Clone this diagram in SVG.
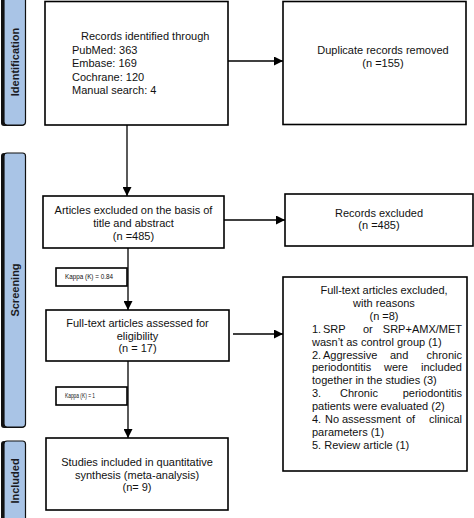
<svg xmlns="http://www.w3.org/2000/svg" width="474" height="518" viewBox="0 0 474 518">
<defs>
<marker id="ah" markerWidth="9" markerHeight="9" refX="9" refY="4.5" orient="auto" markerUnits="userSpaceOnUse">
<path d="M0,0 L9,4.5 L0,9 Z" fill="#000"/>
</marker>
<style>
.box{fill:#fff;stroke:#000;stroke-width:1.6}
.kbox{fill:#fff;stroke:#000;stroke-width:1.6}
.t{font-family:"Liberation Sans",Arial,sans-serif;font-size:11px;fill:#111}
.c{text-anchor:middle}
.e{text-anchor:end}
.k{font-family:"Liberation Sans",Arial,sans-serif;font-size:6.5px;fill:#111}
.shadow{fill:#111}
.bar{fill:#a9c4e6;stroke:#111;stroke-width:1.2}
.lab{font-family:"Liberation Sans",Arial,sans-serif;font-size:11px;font-weight:bold;fill:#1a1a22;text-anchor:middle}
.ln{fill:none;stroke:#000;stroke-width:1.3}
</style>
</defs>
<rect width="474" height="518" fill="#fff"/>

<g id="phase-identification">
<rect class="shadow" x="1" y="-6" width="24" height="132" rx="3"/>
<rect class="bar" x="4" y="-6" width="21.5" height="131" rx="3"/>
<text class="lab" transform="translate(18.5,62) rotate(-90)">Identification</text>
</g>
<g id="phase-screening">
<rect class="shadow" x="1" y="153" width="24" height="275" rx="3"/>
<rect class="bar" x="4" y="153" width="21.5" height="274" rx="3"/>
<text class="lab" transform="translate(18.5,290) rotate(-90)">Screening</text>
</g>
<g id="phase-included">
<rect class="shadow" x="1" y="441" width="24" height="85" rx="3"/>
<rect class="bar" x="4" y="441" width="21.5" height="84" rx="3"/>
<text class="lab" transform="translate(18.5,481) rotate(-90)">Included</text>
</g>

<g id="connectors">
<line class="ln" x1="127" y1="125" x2="127" y2="196" marker-end="url(#ah)"/>
<line class="ln" x1="228" y1="61" x2="283" y2="61" marker-end="url(#ah)"/>
<line class="ln" x1="128" y1="248" x2="128" y2="310" marker-end="url(#ah)"/>
<line class="ln" x1="224" y1="220" x2="285" y2="220" marker-end="url(#ah)"/>
<line class="ln" x1="128" y1="361" x2="128" y2="438" marker-end="url(#ah)"/>
<line class="ln" x1="233" y1="334" x2="283" y2="334" marker-end="url(#ah)"/>
</g>

<g id="records-identified">
<rect class="box" x="45" y="1.5" width="183" height="123.5"/>
<text class="t" x="81" y="40">Records identified through</text>
<text class="t" x="72" y="53.5">PubMed: 363</text>
<text class="t" x="72" y="67">Embase: 169</text>
<text class="t" x="72" y="80.5">Cochrane: 120</text>
<text class="t" x="72" y="94">Manual search: 4</text>
</g>

<g id="duplicates-removed">
<rect class="box" x="283" y="1.5" width="183" height="123"/>
<text class="t c" x="383" y="54">Duplicate records removed</text>
<text class="t c" x="383" y="67">(n =155)</text>
</g>

<g id="title-abstract">
<rect class="box" x="43" y="196" width="181" height="52"/>
<text class="t c" x="133.5" y="214">Articles excluded on the basis of</text>
<text class="t c" x="133.5" y="227">title and abstract</text>
<text class="t c" x="133.5" y="240">(n =485)</text>
</g>

<g id="records-excluded">
<rect class="box" x="285" y="194" width="188" height="52"/>
<text class="t c" x="379" y="217">Records excluded</text>
<text class="t c" x="379" y="229">(n =485)</text>
</g>

<g id="kappa-1">
<rect class="kbox" x="56" y="268" width="71" height="18"/>
<text class="k" x="65" y="279" textLength="48" lengthAdjust="spacingAndGlyphs">Kappa (K) = 0.84</text>
</g>

<g id="fulltext-assessed">
<rect class="box" x="46" y="310" width="183" height="51"/>
<text class="t c" x="137.5" y="327">Full-text articles assessed for</text>
<text class="t c" x="137.5" y="340">eligibility</text>
<text class="t c" x="137.5" y="352">(n = 17)</text>
</g>

<g id="fulltext-excluded">
<rect class="box" x="283" y="277" width="184" height="194"/>
<text class="t c" x="384" y="294">Full-text articles excluded,</text>
<text class="t c" x="384" y="306.9">with reasons</text>
<text class="t c" x="384" y="319.8">(n =8)</text>
<text class="t" y="332.7"><tspan x="312">1.</tspan><tspan x="323">SRP</tspan><tspan x="363">or</tspan></text>
<text class="t e" x="462" y="332.7">SRP+AMX/MET</text>
<text class="t" x="312" y="345.6">wasn’t as control group (1)</text>
<text class="t" y="358.5"><tspan x="312">2.</tspan><tspan x="323">Aggressive</tspan><tspan x="390">and</tspan></text>
<text class="t e" x="462" y="358.5">chronic</text>
<text class="t" y="371.4"><tspan x="312">periodontitis</tspan><tspan x="384">were</tspan></text>
<text class="t e" x="462" y="371.4">included</text>
<text class="t" x="312" y="384.3">together in the studies (3)</text>
<text class="t" y="397.2"><tspan x="312">3.</tspan><tspan x="340">Chronic</tspan></text>
<text class="t e" x="462" y="397.2">periodontitis</text>
<text class="t" x="312" y="410.1">patients were evaluated (2)</text>
<text class="t" y="423"><tspan x="312">4.</tspan><tspan x="325">No</tspan><tspan x="342">assessment</tspan><tspan x="406">of</tspan></text>
<text class="t e" x="462" y="423">clinical</text>
<text class="t" x="312" y="435.9">parameters (1)</text>
<text class="t" x="312" y="448.8">5. Review article (1)</text>
</g>

<g id="kappa-2">
<rect class="kbox" x="56" y="387" width="71" height="18"/>
<text class="k" x="65" y="398" textLength="30" lengthAdjust="spacingAndGlyphs">Kappa (K) = 1</text>
</g>

<g id="studies-included">
<rect class="box" x="46" y="438" width="182" height="72"/>
<text class="t c" x="137" y="466">Studies included in quantitative</text>
<text class="t c" x="137" y="479">synthesis (meta-analysis)</text>
<text class="t c" x="137" y="491">(n= 9)</text>
</g>
</svg>
